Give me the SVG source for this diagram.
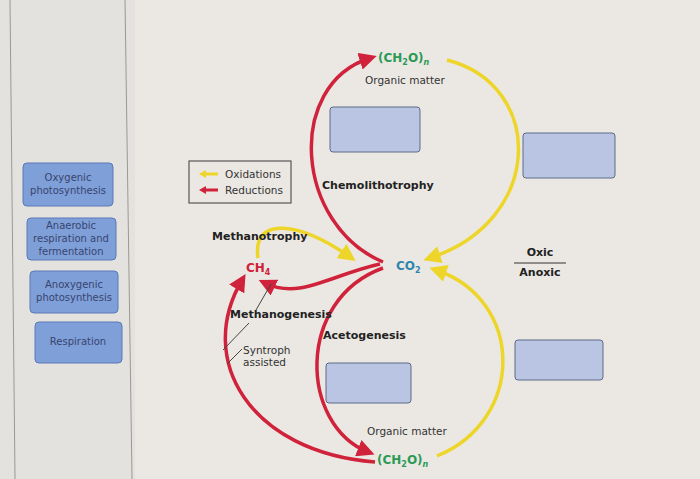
<svg xmlns="http://www.w3.org/2000/svg" width="700" height="479" viewBox="0 0 700 479">
<defs>
<marker id="ar" markerWidth="5" markerHeight="5" refX="3" refY="2.5" orient="auto"><path d="M0,0 L5,2.5 L0,5 Z" fill="#d0223a"/></marker>
<marker id="ay" markerWidth="5" markerHeight="5" refX="3" refY="2.5" orient="auto"><path d="M0,0 L5,2.5 L0,5 Z" fill="#eed52a"/></marker>
<style>
text{font-family:"DejaVu Sans",Verdana,sans-serif}
.tile{fill:#7f9fd9;stroke:#5a78b8;stroke-width:1}
.tt{font-size:10px;fill:#37456e;text-anchor:middle}
.blank{fill:#b9c5e3;stroke:#5c6a88;stroke-width:1}
.r{fill:none;stroke:#d0223a;stroke-width:3.5}
.y{fill:none;stroke:#eed52a;stroke-width:3.5}
.b{font-size:11px;font-weight:bold;fill:#222}
.n{font-size:10.5px;fill:#333}
.g{font-size:12px;font-weight:bold;fill:#2a9a55}
</style>
</defs>
<rect width="700" height="479" fill="#ebe8e3"/>
<rect x="0" y="0" width="135" height="479" fill="#e4e2de"/>
<line x1="10" y1="0" x2="15" y2="479" stroke="#9a9894" stroke-width="1"/>
<line x1="125" y1="0" x2="132" y2="479" stroke="#9a9894" stroke-width="1"/>
<g id="tile-oxygenic"><rect class="tile" x="23" y="163" width="90" height="43" rx="4"/><text class="tt" x="68" y="181">Oxygenic</text><text class="tt" x="68" y="194">photosynthesis</text></g>
<g id="tile-anaerobic"><rect class="tile" x="27" y="218" width="89" height="42" rx="4"/><text class="tt" x="71" y="229">Anaerobic</text><text class="tt" x="71" y="242">respiration and</text><text class="tt" x="71" y="255">fermentation</text></g>
<g id="tile-anoxygenic"><rect class="tile" x="30" y="271" width="88" height="42" rx="4"/><text class="tt" x="74" y="288">Anoxygenic</text><text class="tt" x="74" y="301">photosynthesis</text></g>
<g id="tile-respiration"><rect class="tile" x="35" y="322" width="87" height="41" rx="4"/><text class="tt" x="78" y="345">Respiration</text></g>
<g id="legend"><rect x="189" y="161" width="102" height="42" fill="none" stroke="#555" stroke-width="1.2"/>
<line x1="218" y1="174" x2="205" y2="174" stroke="#eed52a" stroke-width="3"/><path d="M199,174 L206,170 L206,178 Z" fill="#eed52a"/>
<line x1="218" y1="190" x2="205" y2="190" stroke="#d0223a" stroke-width="3"/><path d="M199,190 L206,186 L206,194 Z" fill="#d0223a"/>
<text class="n" x="225" y="178" font-size="11.5">Oxidations</text><text class="n" x="225" y="194" font-size="11.5">Reductions</text></g>
<g id="blank1"><rect class="blank" x="330" y="107" width="90" height="45" rx="3"/></g>
<g id="blank2"><rect class="blank" x="523" y="133" width="92" height="45" rx="3"/></g>
<g id="blank3"><rect class="blank" x="326" y="363" width="85" height="40" rx="3"/></g>
<g id="blank4"><rect class="blank" x="515" y="340" width="88" height="40" rx="3"/></g>
<g id="connectors">
<path class="r" d="M383,262 C295,225 285,85 370,58" marker-end="url(#ar)"/>
<path class="y" d="M447,60 C545,85 545,220 430,258" marker-end="url(#ay)"/>
<path class="y" d="M437,456 C525,420 525,300 436,270" marker-end="url(#ay)"/>
<path class="r" d="M383,268 C295,300 300,425 368,452" marker-end="url(#ar)"/>
<path class="r" d="M380,264 C330,275 300,300 265,283" marker-end="url(#ar)"/>
<path class="r" d="M375,462 C250,452 195,360 242,280" marker-end="url(#ar)"/>
<path class="y" d="M258,258 C252,215 300,222 350,257" marker-end="url(#ay)"/>
<line x1="271" y1="284" x2="256" y2="310" stroke="#444" stroke-width="1"/>
<line x1="249" y1="323" x2="223" y2="350" stroke="#444" stroke-width="1"/>
<line x1="242" y1="349" x2="227" y2="364" stroke="#444" stroke-width="1"/>
</g>
<g id="labels">
<text class="g" x="378" y="62">(CH<tspan font-size="8" dy="3">2</tspan><tspan dy="-3">O)</tspan><tspan font-size="8" dy="3" font-style="italic">n</tspan></text>
<text class="n" x="365" y="84">Organic matter</text>
<text class="b" x="322" y="189">Chemolithotrophy</text>
<text class="b" x="212" y="240">Methanotrophy</text>
<text x="396" y="270" font-size="12" font-weight="bold" fill="#2f86ad">CO<tspan font-size="8" dy="3">2</tspan></text>
<text x="246" y="272" font-size="12" font-weight="bold" fill="#d0223a">CH<tspan font-size="8" dy="3">4</tspan></text>
<text class="b" x="230" y="318" font-size="10">Methanogenesis</text>
<text class="b" x="323" y="339">Acetogenesis</text>
<text class="n" x="243" y="354">Syntroph</text>
<text class="n" x="243" y="366">assisted</text>
<text class="n" x="367" y="435">Organic matter</text>
<text class="g" x="377" y="464">(CH<tspan font-size="8" dy="3">2</tspan><tspan dy="-3">O)</tspan><tspan font-size="8" dy="3" font-style="italic">n</tspan></text>
<text class="b" x="540" y="256" text-anchor="middle">Oxic</text>
<line x1="514" y1="263" x2="566" y2="263" stroke="#333" stroke-width="1"/>
<text class="b" x="540" y="276" text-anchor="middle">Anoxic</text>
</g>
</svg>
